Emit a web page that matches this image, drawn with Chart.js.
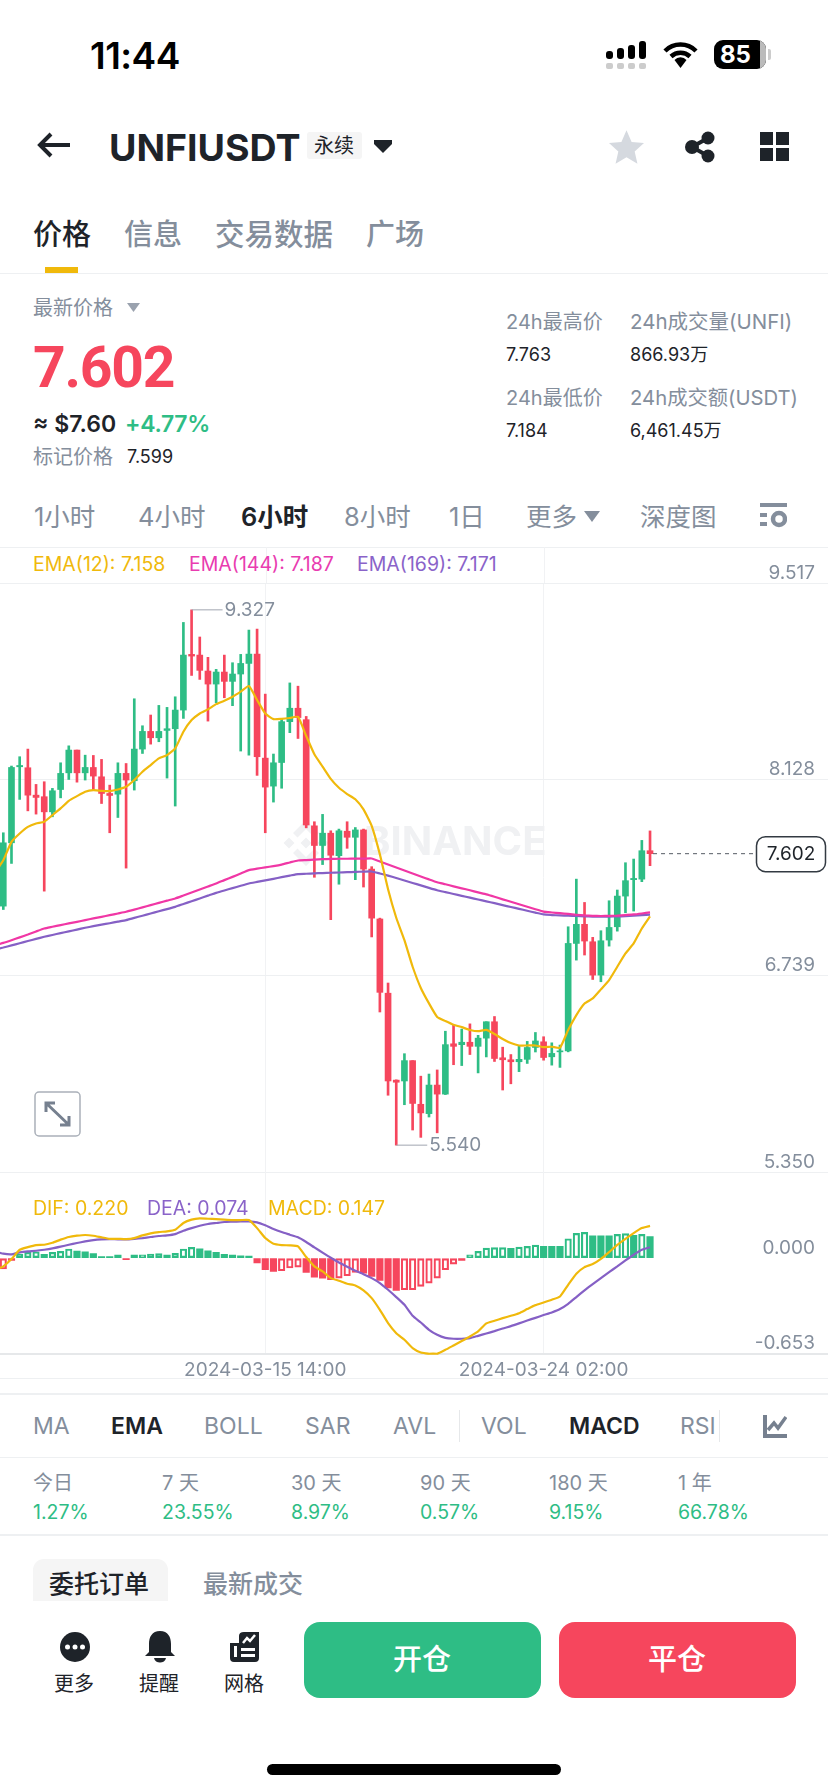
<!DOCTYPE html>
<html lang="zh">
<head>
<meta charset="utf-8">
<title>UNFIUSDT</title>
<script src="https://cdn.jsdelivr.net/npm/chart.js@4"></script>
<style>
html,body{margin:0;padding:0;background:#fff;}
#page{position:relative;width:828px;height:1792px;overflow:hidden;font-family:Inter,"Noto Sans CJK SC",sans-serif;color:#848e9c;}
#page>*{position:absolute;}
.t{line-height:1;white-space:nowrap;}
.d{color:#1e2329;}
.g{color:#2ebd85;}
.s20{font-size:20px;}
.s19{font-size:19.500px;}
.s17{font-size:19.500px;}
.s18{font-size:18px;}
.s23{font-size:23px;}
.s24{font-size:25.500px;}
.hr{left:0;width:828px;height:1px;background:#eef0f2;}
.vr{width:1px;background:#f1f2f4;}
canvas{display:block;}
</style>
</head>
<body>
<div id="page">
  <!-- barre de statut -->
  <div class="t d" style="left:90px;top:37px;font-size:37px;font-weight:600;color:#000;letter-spacing:-0.500px">11:44</div>
  <svg style="left:604px;top:38px" width="46" height="34" viewBox="0 0 46 34">
    <rect x="2" y="13" width="7" height="8" rx="3" fill="#000"/><rect x="13" y="10" width="7" height="11" rx="3" fill="#000"/>
    <rect x="24" y="7" width="7" height="14" rx="3" fill="#000"/><rect x="35" y="3" width="7" height="18" rx="3" fill="#000"/>
    <rect x="2" y="25" width="7" height="6" rx="2" fill="#ccc"/><rect x="13" y="25" width="7" height="6" rx="2" fill="#ccc"/>
    <rect x="24" y="25" width="7" height="6" rx="2" fill="#ccc"/><rect x="35" y="25" width="7" height="6" rx="2" fill="#ccc"/>
  </svg>
  <svg style="left:662px;top:41px" width="37" height="28" viewBox="0 0 37 28">
    <path d="M3 10 A22 22 0 0 1 34 10 M9 15.500 A14 14 0 0 1 28 15.500" fill="none" stroke="#000" stroke-width="4.500"/>
    <path d="M12.500 19 A8 8 0 0 1 24.500 19 L18.500 27 Z" fill="#000"/>
  </svg>
  <div style="left:714px;top:40px;width:52px;height:29px;border-radius:9px;background:#000;overflow:hidden">
    <div style="position:absolute;left:46px;top:0;width:6px;height:29px;background:#bbb"></div>
  </div>
  <div class="t" style="left:720px;top:43px;font-size:24px;font-weight:700;color:#fff">85</div>
  <div style="left:768px;top:49px;width:3px;height:11px;border-radius:0 2px 2px 0;background:#ccc"></div>

  <!-- en-tete -->
  <svg style="left:36px;top:131px" width="36" height="28" viewBox="0 0 36 28">
    <path d="M34 14 H4 M15 3 L4 14 L15 25" fill="none" stroke="#1e2329" stroke-width="4"/>
  </svg>
  <div class="t d" style="left:109px;top:129px;font-size:37.500px;font-weight:700">UNFIUSDT</div>
  <div style="left:307px;top:132px;width:55px;height:27px;background:#f5f5f5;border-radius:3px"></div>
  <div class="t d" style="left:314px;top:136px;font-size:20px">永续</div>
  <svg style="left:374px;top:140px" width="18" height="13" viewBox="0 0 18 13"><path d="M0 0 H18 V4 L9 13 L0 4 Z" fill="#1e2329"/></svg>
  <svg style="left:609px;top:130px" width="35" height="34" viewBox="0 0 24 23"><path d="M12 0 L15.500 8 L24 8.800 L17.600 14.500 L19.500 23 L12 18.500 L4.500 23 L6.400 14.500 L0 8.800 L8.500 8 Z" fill="#d5d9df"/></svg>
  <svg style="left:684px;top:131px" width="32" height="32" viewBox="0 0 32 32">
    <path d="M24 7 L8 16 L24 25" fill="none" stroke="#1e2329" stroke-width="4"/>
    <circle cx="24" cy="7" r="6.500" fill="#1e2329"/><circle cx="8" cy="16" r="7" fill="#1e2329"/><circle cx="24" cy="25" r="6.500" fill="#1e2329"/>
  </svg>
  <svg style="left:760px;top:132px" width="29" height="29" viewBox="0 0 29 29">
    <rect width="13" height="13" fill="#1e2329"/><rect x="16" width="13" height="13" fill="#1e2329"/>
    <rect y="16" width="13" height="13" fill="#1e2329"/><rect x="16" y="16" width="13" height="13" fill="#1e2329"/>
  </svg>

  <!-- onglets -->
  <div class="t d" style="left:33px;top:220px;font-size:29px;font-weight:500">价格</div>
  <div class="t" style="left:124px;top:220px;font-size:29px;font-weight:500">信息</div>
  <div class="t" style="left:215px;top:220px;font-size:29.500px;font-weight:500">交易数据</div>
  <div class="t" style="left:366px;top:220px;font-size:29px;font-weight:500">广场</div>
  <div style="left:45px;top:267px;width:33px;height:6px;background:#f0b90b"></div>
  <div class="hr" style="top:273px"></div>

  <!-- prix -->
  <div class="t s20" style="left:33px;top:298px">最新价格</div>
  <svg style="left:127px;top:303px" width="13" height="9" viewBox="0 0 13 9"><path d="M0 0 H13 L6.500 9 Z" fill="#9aa2ae"/></svg>
  <div class="t" style="left:33px;top:339px;font-size:57px;font-weight:700;color:#f6465d;font-family:Roboto,sans-serif;letter-spacing:-1.200px">7.602</div>
  <div class="t d s23" style="left:33px;top:413px;font-weight:600">≈ $7.60</div>
  <div class="t g s23" style="left:125px;top:413px;font-weight:600;letter-spacing:-0.300px">+4.77%</div>
  <div class="t s20" style="left:33px;top:447px">标记价格</div>
  <div class="t d s18" style="left:127px;top:448px">7.599</div>

  <div class="t" style="left:506px;top:312px;font-size:20px">24h最高价</div>
  <div class="t" style="left:630px;top:312px;font-size:20.500px">24h成交量(UNFI)</div>
  <div class="t d s18" style="left:506px;top:346px">7.763</div>
  <div class="t d s18" style="left:630px;top:346px">866.93万</div>
  <div class="t" style="left:506px;top:388px;font-size:20px">24h最低价</div>
  <div class="t" style="left:630px;top:388px;font-size:20.300px">24h成交额(USDT)</div>
  <div class="t d s18" style="left:506px;top:422px">7.184</div>
  <div class="t d s18" style="left:630px;top:422px">6,461.45万</div>

  <!-- intervalles -->
  <div class="t s24" style="left:34px;top:504px">1小时</div>
  <div class="t s24" style="left:138px;top:504px">4小时</div>
  <div class="t d s24" style="left:241px;top:504px;font-weight:600">6小时</div>
  <div class="t s24" style="left:344px;top:504px">8小时</div>
  <div class="t s24" style="left:449px;top:504px">1日</div>
  <div class="t s24" style="left:526px;top:504px">更多</div>
  <svg style="left:584px;top:511px" width="16" height="11" viewBox="0 0 16 11"><path d="M0 0 H16 L8 11 Z" fill="#848e9c"/></svg>
  <div class="t s24" style="left:640px;top:504px">深度图</div>
  <svg style="left:760px;top:503px" width="27" height="26" viewBox="0 0 27 26">
    <rect width="27" height="4" fill="#848e9c"/><rect y="10" width="7" height="4" fill="#848e9c"/><rect y="19" width="7" height="4" fill="#848e9c"/>
    <circle cx="19" cy="16" r="6" fill="none" stroke="#848e9c" stroke-width="4.500"/>
  </svg>
  <div class="hr" style="top:547px"></div>
  <div class="vr" style="left:266px;top:547px;height:36px"></div>
  <div class="vr" style="left:544px;top:547px;height:36px"></div>

  <div class="t s17" style="left:33px;top:555px;color:#f0b90b">EMA(12): 7.158</div>
  <div class="t s17" style="left:189px;top:555px;color:#e93cb0">EMA(144): 7.187</div>
  <div class="t s17" style="left:357px;top:555px;color:#8a63c9">EMA(169): 7.171</div>

  <!-- graphique principal -->
  <canvas id="priceChart" width="828" height="629" style="left:0;top:548px"></canvas>

  <svg style="left:34px;top:1091px" width="47" height="46" viewBox="0 0 47 46">
    <rect x="1" y="1" width="45" height="44" rx="4" fill="#fff" stroke="#aab0b9" stroke-width="1.500"/>
    <path d="M12 12 L35 34 M12 21 V12 H21 M35 25 V34 H26" fill="none" stroke="#76808f" stroke-width="3"/>
  </svg>

  <!-- MACD -->
  <canvas id="macdChart" width="828" height="225" style="left:0;top:1160px"></canvas>
  <div class="t s17" style="left:33px;top:1199px;color:#f0b90b">DIF: 0.220</div>
  <div class="t s17" style="left:147px;top:1199px;color:#8a63c9">DEA: 0.074</div>
  <div class="t s17" style="left:268px;top:1199px;color:#f0b90b">MACD: 0.147</div>
  <div class="hr" style="top:1378px"></div>
  <div class="hr" style="top:1393px;height:2px"></div>

  <!-- indicateurs -->
  <div class="t s23" style="left:33px;top:1415px">MA</div>
  <div class="t d s23" style="left:111px;top:1415px;font-weight:600">EMA</div>
  <div class="t s23" style="left:204px;top:1415px">BOLL</div>
  <div class="t s23" style="left:305px;top:1415px">SAR</div>
  <div class="t s23" style="left:393px;top:1415px">AVL</div>
  <div class="vr" style="left:459px;top:1410px;height:32px;background:#e6e8ea"></div>
  <div class="t s23" style="left:481px;top:1415px">VOL</div>
  <div class="t d s23" style="left:569px;top:1415px;font-weight:600">MACD</div>
  <div class="t s23" style="left:680px;top:1415px">RSI</div>
  <div class="vr" style="left:719px;top:1410px;height:32px;background:#e6e8ea"></div>
  <svg style="left:763px;top:1415px" width="24" height="23" viewBox="0 0 24 23">
    <path d="M2 0 V21 H24" fill="none" stroke="#76808f" stroke-width="4"/>
    <path d="M5 15 L11 8 L15 13 L23 2" fill="none" stroke="#76808f" stroke-width="3.500"/>
  </svg>
  <div class="hr" style="top:1457px"></div>

  <!-- performance -->
  <div class="t s20" style="left:33px;top:1473px">今日</div>
  <div class="t s20" style="left:162px;top:1473px">7 天</div>
  <div class="t s20" style="left:291px;top:1473px">30 天</div>
  <div class="t s20" style="left:420px;top:1473px">90 天</div>
  <div class="t s20" style="left:549px;top:1473px">180 天</div>
  <div class="t s20" style="left:678px;top:1473px">1 年</div>
  <div class="t g s19" style="left:33px;top:1503px">1.27%</div>
  <div class="t g s19" style="left:162px;top:1503px">23.55%</div>
  <div class="t g s19" style="left:291px;top:1503px">8.97%</div>
  <div class="t g s19" style="left:420px;top:1503px">0.57%</div>
  <div class="t g s19" style="left:549px;top:1503px">9.15%</div>
  <div class="t g s19" style="left:678px;top:1503px">66.78%</div>
  <div class="hr" style="top:1534px;height:2px"></div>

  <!-- carnet -->
  <div style="left:33px;top:1559px;width:135px;height:42px;background:#f5f5f5;border-radius:11px 11px 0 0"></div>
  <div class="t d" style="left:49px;top:1572px;font-size:25px;font-weight:500">委托订单</div>
  <div class="t" style="left:203px;top:1572px;font-size:25px;font-weight:500">最新成交</div>

  <!-- barre du bas -->
  <svg style="left:60px;top:1632px" width="30" height="30" viewBox="0 0 30 30">
    <circle cx="15" cy="15" r="15" fill="#1e2329"/><circle cx="7.500" cy="15" r="2.500" fill="#fff"/><circle cx="15" cy="15" r="2.500" fill="#fff"/><circle cx="22.500" cy="15" r="2.500" fill="#fff"/>
  </svg>
  <svg style="left:145px;top:1631px" width="30" height="32" viewBox="0 0 30 32">
    <path d="M15 0 C7 0 4 6 4 13 V21 L0 25 H30 L26 21 V13 C26 6 23 0 15 0 Z" fill="#1e2329"/><path d="M9 27 H21 C20 33 10 33 9 27 Z" fill="#1e2329"/>
  </svg>
  <svg style="left:230px;top:1632px" width="29" height="30" viewBox="0 0 29 30">
    <path d="M14 0 H29 V26 Q29 30 25 30 H4 Q0 30 0 26 V11 H9 V4 Q9 0 14 0 Z" fill="#1e2329"/>
    <path d="M13 11 L17 6 L20 9 L25 3" fill="none" stroke="#fff" stroke-width="2.500"/>
    <rect x="4" y="14" width="3" height="11" fill="#fff"/><rect x="11" y="16" width="14" height="3" fill="#fff"/><rect x="11" y="22" width="14" height="3" fill="#fff"/>
  </svg>
  <div class="t d s20" style="left:54px;top:1674px">更多</div>
  <div class="t d s20" style="left:139px;top:1674px">提醒</div>
  <div class="t d s20" style="left:224px;top:1674px">网格</div>
  <div style="left:304px;top:1622px;width:237px;height:76px;border-radius:16px;background:#2ebd85"></div>
  <div class="t" style="left:393px;top:1645px;font-size:29px;font-weight:500;color:#fff">开仓</div>
  <div style="left:559px;top:1622px;width:237px;height:76px;border-radius:16px;background:#f6465d"></div>
  <div class="t" style="left:648px;top:1645px;font-size:29px;font-weight:500;color:#fff">平仓</div>
  <div style="left:267px;top:1764px;width:294px;height:11px;border-radius:6px;background:#000"></div>
</div>

<script>
// DONNEES : ---------------------------------------------------------------
const opens = [7.231,7.679,8.217,8.210,8.016,8.005,7.898,8.056,8.174,8.335,8.174,8.212,8.146,8.028,8.023,8.170,8.118,8.342,8.467,8.422,
  8.474,8.486,8.618,9.012,9.007,8.894,8.802,8.887,8.821,8.873,8.948,9.014,8.278,8.080,8.247,8.536,8.631,8.550,7.799,7.660,
  7.747,7.588,7.761,7.718,7.770,7.493,7.140,6.615,6.000,5.994,6.138,5.829,5.763,5.965,5.901,6.257,6.251,6.268,6.239,6.297,
  6.413,6.158,6.144,6.130,6.147,6.231,6.271,6.165,6.200,6.207,6.967,7.102,6.979,6.743,6.991,7.085,7.302,7.418,7.422,7.623];
const highs = [7.750,8.222,8.288,8.342,8.092,8.111,8.064,8.245,8.365,8.335,8.299,8.297,8.269,8.087,8.245,8.240,8.698,8.507,8.583,8.651,
  8.637,8.712,9.238,9.327,9.135,8.991,8.906,9.007,8.953,9.012,9.184,9.191,8.731,8.307,8.559,8.810,8.787,8.573,7.828,7.880,
  7.764,7.776,7.828,7.787,7.776,7.510,7.146,6.687,6.002,6.187,6.138,6.028,6.043,6.072,6.346,6.389,6.361,6.398,6.317,6.413,
  6.450,6.233,6.181,6.245,6.274,6.337,6.307,6.264,6.248,7.085,7.422,7.257,7.010,7.057,7.269,7.345,7.538,7.564,7.696,7.763];
const lows = [7.207,7.533,7.986,7.905,7.882,7.337,7.863,7.997,8.127,8.108,8.123,8.056,7.957,7.750,7.858,7.500,8.052,8.311,8.377,8.394,
  8.137,7.939,8.559,8.863,8.835,8.540,8.670,8.705,8.649,8.328,8.299,8.156,7.750,7.967,8.065,8.458,8.417,7.785,7.435,7.525,
  7.135,7.386,7.640,7.418,7.366,7.013,6.482,5.893,5.540,5.826,5.647,5.595,5.739,5.627,5.898,6.109,6.103,6.181,6.051,6.164,
  6.132,5.930,5.974,6.060,6.118,6.199,6.141,6.106,6.090,6.200,6.849,6.885,6.712,6.696,6.948,7.054,7.184,7.196,7.404,7.517];
const closes = [7.679,8.212,8.226,8.016,8.000,7.898,8.047,8.170,8.335,8.174,8.212,8.151,8.028,8.014,8.170,8.123,8.342,8.467,8.422,8.467,
  8.486,8.618,9.007,9.000,8.899,8.802,8.887,8.821,8.873,8.948,9.014,8.288,8.073,8.245,8.536,8.631,8.565,7.805,7.660,7.747,
  7.591,7.764,7.718,7.770,7.493,7.146,6.621,5.994,5.985,6.138,5.835,5.768,5.965,5.901,6.251,6.239,6.268,6.239,6.297,6.413,
  6.153,6.144,6.130,6.147,6.231,6.277,6.160,6.189,6.207,6.967,7.102,6.984,6.743,6.986,7.080,7.302,7.411,7.427,7.623,7.602];

// les courbes commencent une bougie avant le bord gauche (indice -1)
const ema12 = [7.470,7.556,7.686,7.745,7.792,7.816,7.828,7.875,7.922,7.976,8.009,8.040,8.052,8.047,8.045,8.056,8.075,8.123,8.182,8.229,8.276,
  8.299,8.347,8.465,8.547,8.594,8.623,8.660,8.684,8.712,8.748,8.788,8.689,8.594,8.554,8.556,8.562,8.570,8.435,8.305,8.218,
  8.131,8.068,8.024,7.987,7.915,7.799,7.597,7.351,7.149,6.990,6.802,6.652,6.543,6.447,6.418,6.392,6.375,6.355,6.346,6.355,
  6.326,6.291,6.262,6.245,6.245,6.245,6.233,6.236,6.229,6.354,6.460,6.542,6.578,6.642,6.708,6.802,6.896,6.967,7.073,7.158];
const ema144 = [6.955,6.971,6.990,7.010,7.030,7.052,7.073,7.085,7.097,7.109,7.120,7.132,7.144,7.155,7.167,7.179,7.191,7.206,7.222,7.238,7.254,
  7.270,7.285,7.306,7.327,7.349,7.370,7.391,7.415,7.438,7.462,7.486,7.496,7.505,7.514,7.525,7.540,7.554,7.557,7.560,7.563,
  7.565,7.566,7.566,7.567,7.567,7.568,7.547,7.525,7.504,7.483,7.462,7.441,7.420,7.400,7.386,7.371,7.357,7.343,7.328,7.314,
  7.297,7.279,7.262,7.244,7.227,7.209,7.192,7.186,7.181,7.176,7.170,7.165,7.162,7.161,7.162,7.164,7.168,7.172,7.179,7.187];
const ema169 = [6.925,6.938,6.953,6.968,6.984,6.999,7.014,7.027,7.040,7.052,7.065,7.078,7.089,7.100,7.110,7.121,7.132,7.148,7.163,7.179,7.195,
  7.210,7.226,7.246,7.266,7.285,7.305,7.325,7.342,7.358,7.375,7.391,7.402,7.413,7.424,7.436,7.447,7.458,7.460,7.463,7.465,
  7.467,7.469,7.471,7.473,7.475,7.476,7.462,7.447,7.430,7.412,7.395,7.378,7.360,7.343,7.330,7.317,7.304,7.291,7.278,7.265,
  7.252,7.238,7.225,7.212,7.198,7.185,7.172,7.168,7.165,7.163,7.161,7.159,7.157,7.156,7.157,7.158,7.160,7.163,7.167,7.171];

const dif = [-0.080,-0.057,-0.007,0.057,0.075,0.089,0.091,0.105,0.126,0.144,0.153,0.158,0.153,0.142,0.132,0.132,0.130,0.137,0.155,0.169,0.178,
  0.183,0.194,0.240,0.263,0.272,0.269,0.267,0.263,0.260,0.260,0.260,0.205,0.137,0.098,0.089,0.087,0.080,0.007,-0.057,-0.091,
  -0.137,-0.155,-0.176,-0.187,-0.221,-0.274,-0.354,-0.445,-0.514,-0.559,-0.616,-0.646,-0.655,-0.655,-0.628,-0.598,-0.568,-0.537,-0.502,-0.447,
  -0.429,-0.411,-0.395,-0.377,-0.349,-0.322,-0.304,-0.285,-0.263,-0.183,-0.107,-0.062,-0.041,-0.005,0.041,0.091,0.132,0.171,0.205,0.220];
const dea = [0.046,0.030,0.025,0.039,0.046,0.050,0.057,0.066,0.078,0.091,0.103,0.114,0.123,0.128,0.130,0.128,0.128,0.132,0.137,0.144,0.151,
  0.155,0.164,0.187,0.205,0.221,0.233,0.240,0.247,0.249,0.251,0.251,0.244,0.224,0.199,0.178,0.160,0.142,0.110,0.073,0.037,
  0.002,-0.030,-0.059,-0.087,-0.110,-0.137,-0.171,-0.217,-0.267,-0.320,-0.395,-0.441,-0.491,-0.525,-0.546,-0.552,-0.552,-0.548,-0.532,-0.516,
  -0.500,-0.482,-0.466,-0.447,-0.427,-0.409,-0.390,-0.372,-0.349,-0.313,-0.267,-0.221,-0.178,-0.137,-0.096,-0.057,-0.016,0.023,0.057,0.074];
const macdHist = [-0.075,-0.016,0.027,0.039,0.043,0.025,0.039,0.046,0.062,0.048,0.043,0.030,0.011,0.011,0.021,-0.011,0.021,0.023,0.027,0.030,
  0.021,0.032,0.062,0.073,0.064,0.050,0.039,0.025,0.021,0.016,0.014,-0.034,-0.080,-0.091,-0.087,-0.068,-0.062,-0.098,-0.130,-0.137,
  -0.148,-0.137,-0.121,-0.098,-0.103,-0.126,-0.153,-0.205,-0.221,-0.217,-0.217,-0.194,-0.171,-0.137,-0.080,-0.041,-0.016,0.023,0.046,0.068,
  0.071,0.071,0.066,0.075,0.080,0.089,0.080,0.080,0.080,0.132,0.169,0.176,0.153,0.153,0.153,0.162,0.167,0.155,0.162,0.147];
const macdHollow = [0,2,3,4,6,7,8,17,18,19,21,22,23,34,35,36,41,42,43,49,50,51,52,53,54,55,57,58,59,60,61,63,64,65,69,70,71,75,76,78];

const priceTicks = [5.350, 6.739, 8.128, 9.517];
const macdTicks = [-0.653, 0.000];
const dateIndex = [32, 66];
const dateLabels = ['2024-03-15 14:00', '2024-03-24 02:00'];
const lastPrice = 7.602;

// CONFIG : ---------------------------------------------------------------
const green = '#2ebd85';
const red = '#f6465d';
const gridColor = '#eef0f2';
const tickColor = '#848e9c';
const fontStack = 'Inter, "Noto Sans CJK SC", sans-serif';
const xMin = -0.403;
const xMax = 100.74;

const indexes = closes.map((c, i) => i);
const candleColors = closes.map((c, i) => c >= opens[i] ? green : red);

function xAxis(showLabels) {
  return {
    type: 'linear',
    offset: false,
    min: xMin,
    max: xMax,
    afterBuildTicks: s => { s.ticks = dateIndex.map(v => ({ value: v })); },
    grid: { color: '#f1f2f4', drawTicks: false, offset: false },
    border: { display: showLabels, color: '#e6e8ea', width: 2 },
    ticks: {
      display: showLabels,
      autoSkip: false,
      maxRotation: 0,
      padding: 5,
      color: tickColor,
      font: { family: fontStack, size: 19 },
      callback: v => dateLabels[dateIndex.indexOf(v)]
    },
    afterFit: s => { s.height = showLabels ? 31.5 : 0; }
  };
}

function yAxis(min, max, tickValues, showGrid) {
  return {
    position: 'right',
    min: min,
    max: max,
    afterBuildTicks: s => { s.ticks = tickValues.map(v => ({ value: v })); },
    afterFit: s => { s.width = 0; },
    grid: { color: showGrid ? gridColor : 'transparent', drawTicks: false },
    border: { display: false },
    ticks: {
      mirror: true,
      padding: -13,
      labelOffset: -10,
      color: tickColor,
      font: { family: fontStack, size: 19 },
      callback: v => v.toFixed(3)
    }
  };
}

function linePoints(values) {
  return values.map((v, i) => ({ x: i - 1, y: v }));
}

function lineSet(values, color, order) {
  return { type: 'line', data: linePoints(values), borderColor: color, borderWidth: 2.2, pointRadius: 0, tension: 0.15, order: order, clip: false };
}

// filigrane, plus haut / plus bas et dernier prix
const priceMarks = {
  id: 'priceMarks',
  beforeDatasetsDraw(chart) {
    const c = chart.ctx;
    const cy = chart.scales.y.getPixelForValue(7.677);
    const cx = 306;
    c.save();
    c.fillStyle = '#f0f1f3';
    c.font = 'bold 40px ' + fontStack;
    c.textBaseline = 'middle';
    c.textAlign = 'left';
    c.fillText('BINANCE', 364, cy);
    // logo : losange central, deux petits losanges, deux chevrons
    [0, -17, 17].forEach(dx => {
      c.beginPath();
      c.moveTo(cx + dx, cy - 5.5);
      c.lineTo(cx + dx + 5.5, cy);
      c.lineTo(cx + dx, cy + 5.5);
      c.lineTo(cx + dx - 5.5, cy);
      c.closePath();
      c.fill();
    });
    [-1, 1].forEach(s => {
      c.beginPath();
      c.moveTo(cx, cy + s * 23);
      c.lineTo(cx + 13, cy + s * 10);
      c.lineTo(cx + 8.5, cy + s * 5.5);
      c.lineTo(cx, cy + s * 14);
      c.lineTo(cx - 8.5, cy + s * 5.5);
      c.lineTo(cx - 13, cy + s * 10);
      c.closePath();
      c.fill();
    });
    c.restore();
  },
  afterDatasetsDraw(chart) {
    const c = chart.ctx;
    const x = chart.scales.x, y = chart.scales.y;
    c.save();
    c.font = '19px ' + fontStack;
    c.textBaseline = 'middle';
    c.textAlign = 'left';
    [highs.indexOf(Math.max(...highs)), lows.indexOf(Math.min(...lows))].forEach((i, k) => {
      const val = k === 0 ? highs[i] : lows[i];
      const px = x.getPixelForValue(i), py = y.getPixelForValue(val);
      c.strokeStyle = '#a0a6b0';
      c.lineWidth = 1;
      c.beginPath();
      c.moveTo(px, py);
      c.lineTo(px + 31, py);
      c.stroke();
      c.fillStyle = tickColor;
      c.fillText(val.toFixed(3), px + 33, py);
    });
    const ly = y.getPixelForValue(lastPrice);
    c.strokeStyle = '#555b64';
    c.lineWidth = 1;
    c.setLineDash([4, 4]);
    c.beginPath();
    c.moveTo(x.getPixelForValue(closes.length - 1) + 3, ly);
    c.lineTo(756, ly);
    c.stroke();
    c.setLineDash([]);
    c.fillStyle = '#fff';
    c.strokeStyle = '#333a42';
    c.lineWidth = 1.5;
    c.beginPath();
    c.roundRect(756.5, ly - 17, 69, 35, 9);
    c.fill();
    c.stroke();
    c.fillStyle = '#1e2329';
    c.font = '19px ' + fontStack;
    c.textAlign = 'center';
    c.fillText(lastPrice.toFixed(3), 791, ly + 1);
    c.restore();
  }
};

// GRAPHIQUES : ---------------------------------------------------------------
new Chart(document.getElementById('priceChart'), {
  type: 'bar',
  data: {
    datasets: [
      lineSet(ema12, '#f0b90b', 1),
      lineSet(ema144, '#f037a5', 2),
      lineSet(ema169, '#8560c5', 3),
      {
        data: indexes.map(i => ({ x: i, y: [opens[i], closes[i]] })),
        backgroundColor: candleColors,
        barThickness: 6,
        grouped: false,
        order: 4
      },
      {
        data: indexes.map(i => ({ x: i, y: [lows[i], highs[i]] })),
        backgroundColor: candleColors,
        barThickness: 2,
        grouped: false,
        order: 5
      }
    ]
  },
  options: {
    responsive: false,
    animation: false,
    layout: { padding: { top: 35, bottom: 5, left: 0, right: 0 } },
    scales: { x: xAxis(false), y: yAxis(5.350, 9.517, priceTicks, true) },
    plugins: { legend: { display: false }, tooltip: { enabled: false } }
  },
  plugins: [priceMarks]
});

const macdColors = macdHist.map(v => v >= 0 ? green : red);

new Chart(document.getElementById('macdChart'), {
  type: 'bar',
  data: {
    datasets: [
      lineSet(dif, '#f0b90b', 1),
      lineSet(dea, '#8560c5', 2),
      {
        data: indexes.map(i => ({ x: i, y: macdHist[i] })),
        backgroundColor: indexes.map(i => macdHollow.includes(i) ? 'transparent' : macdColors[i]),
        borderColor: macdColors,
        borderWidth: indexes.map(i => macdHollow.includes(i) ? 1.5 : 0),
        borderSkipped: false,
        barThickness: 6.5,
        grouped: false,
        order: 3
      }
    ]
  },
  options: {
    responsive: false,
    animation: false,
    layout: { padding: { top: 12, bottom: 0, left: 0, right: 0 } },
    scales: { x: xAxis(true), y: yAxis(-0.653, 0.589, macdTicks, false) },
    plugins: { legend: { display: false }, tooltip: { enabled: false } }
  }
});
</script>
</body>
</html>
